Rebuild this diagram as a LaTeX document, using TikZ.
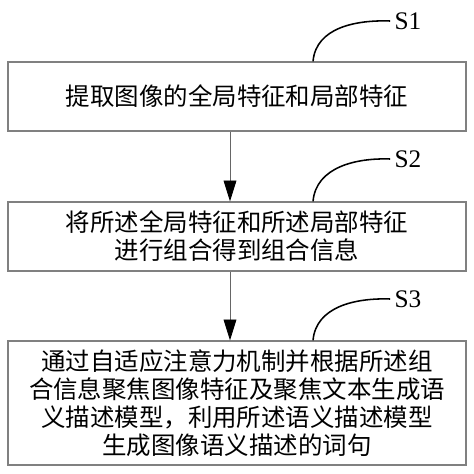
\documentclass[tikz,border=0pt]{standalone}
\usepackage{fontspec}
\setmainfont{Liberation Serif}
\newfontfamily\cjk{Noto Sans CJK SC}
\usetikzlibrary{arrows.meta}
\usetikzlibrary{positioning}

\begin{document}
\begin{tikzpicture}[
  x=0.025cm, y=-0.025cm,
  stepbox/.style={draw=black!50, line width=0.9pt, rectangle, minimum width=11.45cm,
    align=center, font=\cjk\fontsize{17.4}{19.8}\selectfont, inner sep=0pt},
  steplabel/.style={font=\fontsize{18}{20}\selectfont, inner sep=1pt},
  arr/.style={black!60, line width=0.6pt, -{Triangle[length=5.2mm,width=3.2mm,fill=black,color=black]}},
  tag/.style={line width=1.1pt, black},
]
\useasboundingbox (0,0) rectangle (474,474);

\node (box1) [stepbox, minimum height=1.725cm] at (237,96.5) {提取图像的全局特征和局部特征};
\node (box2) [stepbox, minimum height=1.725cm] at (237,236.5) {将所述全局特征和所述局部特征\\进行组合得到组合信息};
\node (box3) [stepbox, minimum height=3.1cm] at (237,403) {通过自适应注意力机制并根据所述组\\合信息聚焦图像特征及聚焦文本生成语\\义描述模型，利用所述语义描述模型\\生成图像语义描述的词句};

\node (s1) [steplabel] at (408,21) {S1};
\node (s2) [steplabel] at (408,159) {S2};
\node (s3) [steplabel] at (408,299) {S3};

\draw[arr] ([xshift=-0.175cm]box1.south) -- ([xshift=-0.175cm]box2.north);
\draw[arr] ([xshift=-0.175cm]box2.south) -- ([xshift=-0.175cm]box3.north);

\draw[tag] ([xshift=1.9cm]box1.north) to[out=85,in=178] ([xshift=-2pt]s1.west);
\draw[tag] ([xshift=1.9cm]box2.north) to[out=85,in=178] ([xshift=-2pt]s2.west);
\draw[tag] ([xshift=1.9cm]box3.north) to[out=85,in=178] ([xshift=-2pt]s3.west);
\end{tikzpicture}
\end{document}
